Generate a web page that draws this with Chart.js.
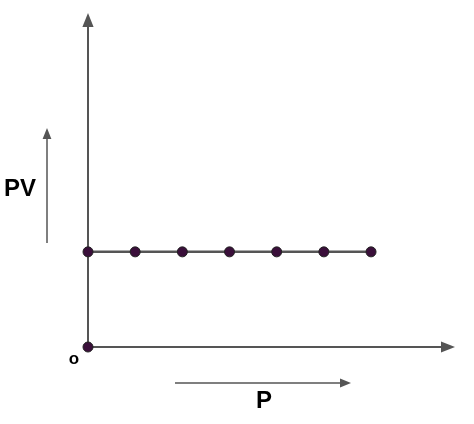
<!DOCTYPE html>
<html>
<head>
<meta charset="utf-8">
<script src="https://cdn.jsdelivr.net/npm/chart.js@4"></script>
<style>
html, body { margin: 0; padding: 0; background: #fff; }
#wrap { width: 474px; height: 424px; position: relative; }
</style>
</head>
<body>
<div id="wrap"><canvas id="pvChart"></canvas></div>
<script>
const pressures = [0, 1, 2, 3, 4, 5, 6];
const pvValues = [1, 1, 1, 1, 1, 1, 1];
const origin = [{ x: 0, y: 0 }];

const lineColor = '#555';
const dotColor = '#3a0f3a';

function arrowHead(ctx, x, y, dir, size) {
    ctx.save();
    ctx.translate(x, y);
    ctx.rotate(dir);
    ctx.beginPath();
    ctx.moveTo(0, 0);
    ctx.lineTo(-size, -size * 0.4);
    ctx.lineTo(-size, size * 0.4);
    ctx.closePath();
    ctx.fill();
    ctx.restore();
}

const axesPlugin = {
    id: 'axesPlugin',
    beforeDatasetsDraw(chart) {
        const ctx = chart.ctx;
        const xs = chart.scales.x, ys = chart.scales.y;
        const ox = xs.getPixelForValue(0), oy = ys.getPixelForValue(0);
        ctx.save();
        ctx.strokeStyle = lineColor;
        ctx.fillStyle = lineColor;
        ctx.lineWidth = 2;
        // y axis
        ctx.beginPath();
        ctx.moveTo(ox, oy);
        ctx.lineTo(ox, chart.chartArea.top + 10);
        ctx.stroke();
        arrowHead(ctx, ox, chart.chartArea.top - 2, -Math.PI / 2, 14);
        // x axis
        ctx.beginPath();
        ctx.moveTo(ox, oy);
        ctx.lineTo(chart.chartArea.right - 10, oy);
        ctx.stroke();
        arrowHead(ctx, chart.chartArea.right, oy, 0, 14);
        // side arrows
        ctx.lineWidth = 1.5;
        ctx.beginPath();
        ctx.moveTo(47, 243);
        ctx.lineTo(47, 138);
        ctx.stroke();
        arrowHead(ctx, 47, 128, -Math.PI / 2, 11);
        ctx.beginPath();
        ctx.moveTo(175, 383);
        ctx.lineTo(340, 383);
        ctx.stroke();
        arrowHead(ctx, 351, 383, 0, 11);
        // labels
        ctx.fillStyle = '#000';
        ctx.font = 'bold 24px "Liberation Sans", Arial, sans-serif';
        ctx.textBaseline = 'middle';
        ctx.textAlign = 'center';
        ctx.fillText('PV', 20, 189);
        ctx.fillText('P', 264, 401);
        ctx.font = 'bold 17px "Liberation Sans", Arial, sans-serif';
        ctx.fillText('o', 74, 359);
        ctx.restore();
    }
};

new Chart(document.getElementById('pvChart'), {
    type: 'scatter',
    data: {
        datasets: [{
            data: pressures.map((p, i) => ({ x: p, y: pvValues[i] })),
            showLine: true,
            clip: false,
            borderColor: lineColor,
            borderWidth: 2.5,
            pointRadius: 5,
            pointBackgroundColor: dotColor,
            pointBorderColor: '#222',
            pointBorderWidth: 1
        }, {
            data: origin,
            clip: false,
            pointRadius: 5,
            pointBackgroundColor: dotColor,
            pointBorderColor: '#222',
            pointBorderWidth: 1
        }]
    },
    options: {
        responsive: true,
        maintainAspectRatio: false,
        animation: false,
        layout: { padding: { left: 88, right: 19, top: 15, bottom: 77 } },
        plugins: { legend: { display: false }, tooltip: { enabled: false } },
        scales: {
            x: { type: 'linear', min: 0, max: 7.78, display: false },
            y: { type: 'linear', min: 0, max: 3.49, display: false }
        }
    },
    plugins: [axesPlugin]
});
</script>
</body>
</html>
